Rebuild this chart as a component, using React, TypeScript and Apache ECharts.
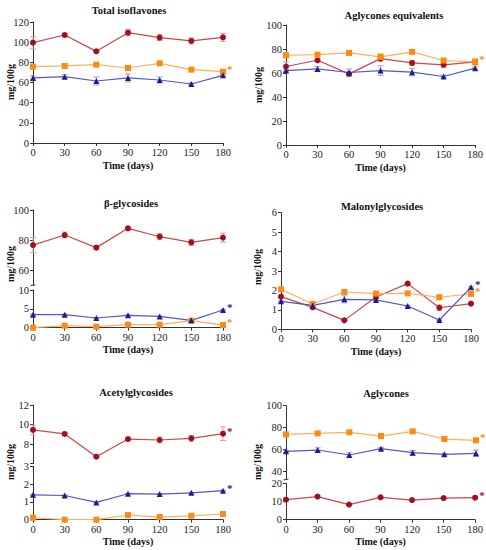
import { useRef, useEffect } from "react";
import * as echarts from "echarts";

const DAYS = [0, 30, 60, 90, 120, 150, 180];
const X_TICKS = { min: 0, max: 180, interval: 30 };

// Total isoflavones
const totalRed = [99.5, 107.1, 90.9, 109.4, 104.5, 101.2, 104.8];
const totalRedErr = [6, 2, 1, 3, 3, 3, 4];
const totalOrange = [75.7, 76.4, 77.7, 74.4, 79, 72.7, 70.7];
const totalOrangeErr = [2, 1, 1, 2, 1, 1, 1];
const totalBlue = [64.5, 65.8, 61.5, 64.5, 62.5, 58.5, 67.1];
const totalBlueErr = [2, 2, 4, 4, 3, 1, 1];

// Aglycones equivalents
const eqRed = [65.4, 70.6, 59.3, 72, 68.4, 66.8, 69.3];
const eqRedErr = [4, 1, 1, 2, 2, 2, 2];
const eqOrange = [74.8, 75.3, 76.7, 73.4, 77.6, 70.4, 69.3];
const eqOrangeErr = [2, 1, 1, 3, 1, 1, 3];
const eqBlue = [62, 63.4, 60.4, 62, 60.7, 57.1, 64];
const eqBlueErr = [1, 2, 3, 4, 3, 1, 1];

// β-glycosides
const betaRed = [76.9, 83.5, 75.2, 87.9, 82.4, 78.7, 81.8];
const betaRedErr = [5, 2, 1, 1, 2, 2, 3];
const betaOrange = [0, 0.53, 0.27, 0.8, 0.8, 1.86, 0.7];
const betaOrangeErr = [0.1, 0.1, 0.1, 0.1, 0.1, 0.2, 0.1];
const betaBlue = [3.45, 3.45, 2.57, 3.27, 3.0, 1.95, 4.7];
const betaBlueErr = [0.2, 0.2, 0.1, 0.1, 0.1, 0.1, 0.2];

// Malonylglycosides
const malRed = [1.68, 1.13, 0.46, 1.66, 2.35, 1.11, 1.32];
const malRedErr = [0.05, 0.05, 0.03, 0.05, 0.05, 0.15, 0.05];
const malOrange = [2.06, 1.3, 1.92, 1.84, 1.85, 1.65, 1.82];
const malOrangeErr = [0.06, 0.05, 0.05, 0.05, 0.04, 0.05, 0.04];
const malBlue = [1.44, 1.23, 1.54, 1.51, 1.2, 0.48, 2.16];
const malBlueErr = [0.05, 0.05, 0.18, 0.05, 0.04, 0.03, 0.05];

// Acetylglycosides
const acRed = [9.44, 9.03, 6.7, 8.51, 8.41, 8.58, 9.06];
const acRedErr = [0.5, 0.1, 0.1, 0.15, 0.3, 0.3, 0.7];
const acOrange = [0.11, 0, 0, 0.26, 0.15, 0.22, 0.32];
const acOrangeErr = [0.05, 0, 0, 0.05, 0.05, 0.05, 0.05];
const acBlue = [1.4, 1.36, 0.97, 1.46, 1.44, 1.51, 1.63];
const acBlueErr = [0.03, 0.03, 0.03, 0.03, 0.03, 0.03, 0.03];

// Aglycones
const agRed = [11.0, 12.7, 8.3, 12.3, 10.8, 11.9, 12.1];
const agRedErr = [0.6, 0.5, 0.5, 0.5, 0.5, 0.5, 0.6];
const agOrange = [73.9, 74.8, 75.8, 72.4, 76.7, 69.7, 68.5];
const agOrangeErr = [1, 1, 1, 2, 1, 1, 2];
const agBlue = [58.5, 59.7, 55.2, 60.9, 57.3, 55.8, 56.7];
const agBlueErr = [1, 2, 2, 1, 2, 1, 3];

const FONT = "Liberation Serif";
const AXIS_COLOR = "#333";

const STYLE = {
  red: { symbol: "circle", size: 6, marker: "#a3101d", line: "#c9474e", err: "#e49aa2" },
  orange: { symbol: "rect", size: 6, marker: "#ff8a10", line: "#ffae5e", err: "#ffc890" },
  blue: { symbol: "triangle", size: 6, marker: "#1c1c8c", line: "#5656c6", err: "#9d9de2" },
};

type Kind = "red" | "orange" | "blue";
type Seg = { top: number; height: number; min: number; max: number; interval: number; hide?: number };
type Line = { kind: Kind; data: number[]; err: number[]; seg: number; star?: boolean };
type Panel = {
  title: string;
  titleX: number;
  titleY: number;
  left: number;
  nameX: number;
  nameY: number;
  segs: Seg[];
  ext?: [number, number];
  lines: Line[];
};

const panels: Panel[] = [
  {
    title: "Total isoflavones", titleX: 129, titleY: 10, left: 33, nameX: 10, nameY: 82,
    segs: [{ top: 22, height: 121, min: 0, max: 120, interval: 20 }],
    lines: [
      { kind: "red", data: totalRed, err: totalRedErr, seg: 0 },
      { kind: "orange", data: totalOrange, err: totalOrangeErr, seg: 0, star: true },
      { kind: "blue", data: totalBlue, err: totalBlueErr, seg: 0 },
    ],
  },
  {
    title: "Aglycones equivalents", titleX: 394, titleY: 15, left: 286, nameX: 258, nameY: 85,
    segs: [{ top: 25, height: 120, min: 0, max: 100, interval: 20 }],
    lines: [
      { kind: "red", data: eqRed, err: eqRedErr, seg: 0 },
      { kind: "orange", data: eqOrange, err: eqOrangeErr, seg: 0, star: true },
      { kind: "blue", data: eqBlue, err: eqBlueErr, seg: 0 },
    ],
  },
  {
    title: "β-glycosides", titleX: 131, titleY: 203, left: 33, nameX: 10, nameY: 264,
    segs: [
      { top: 210, height: 60.7, min: 60, max: 100, interval: 20 },
      { top: 290, height: 37.7, min: 0, max: 10, interval: 5 },
    ],
    ext: [270.7, 285.7],
    lines: [
      { kind: "red", data: betaRed, err: betaRedErr, seg: 0 },
      { kind: "orange", data: betaOrange, err: betaOrangeErr, seg: 1, star: true },
      { kind: "blue", data: betaBlue, err: betaBlueErr, seg: 1, star: true },
    ],
  },
  {
    title: "Malonylglycosides", titleX: 382, titleY: 206, left: 281, nameX: 257, nameY: 267,
    segs: [{ top: 212.7, height: 116.6, min: 0, max: 6, interval: 1 }],
    lines: [
      { kind: "red", data: malRed, err: malRedErr, seg: 0 },
      { kind: "orange", data: malOrange, err: malOrangeErr, seg: 0, star: true },
      { kind: "blue", data: malBlue, err: malBlueErr, seg: 0, star: true },
    ],
  },
  {
    title: "Acetylglycosides", titleX: 136, titleY: 392, left: 33, nameX: 10, nameY: 462,
    segs: [
      { top: 405, height: 58.5, min: 6, max: 12, interval: 2, hide: 6 },
      { top: 466.3, height: 53.4, min: 0, max: 3, interval: 1 },
    ],
    lines: [
      { kind: "red", data: acRed, err: acRedErr, seg: 0, star: true },
      { kind: "orange", data: acOrange, err: acOrangeErr, seg: 1 },
      { kind: "blue", data: acBlue, err: acBlueErr, seg: 1, star: true },
    ],
  },
  {
    title: "Aglycones", titleX: 386, titleY: 393, left: 286, nameX: 257, nameY: 462,
    segs: [
      { top: 405.7, height: 66, min: 40, max: 100, interval: 20 },
      { top: 483.3, height: 36.4, min: 0, max: 20, interval: 10 },
    ],
    ext: [471.7, 480],
    lines: [
      { kind: "red", data: agRed, err: agRedErr, seg: 1, star: true },
      { kind: "orange", data: agOrange, err: agOrangeErr, seg: 0, star: true },
      { kind: "blue", data: agBlue, err: agBlueErr, seg: 0 },
    ],
  },
];

const PLOT_W = 190;

const App = () => {
  const chartRef = useRef<HTMLDivElement>(null);

  useEffect(() => {
    const grid: any[] = [];
    const xAxis: any[] = [];
    const yAxis: any[] = [];
    const series: any[] = [];
    const graphic: any[] = [];

    panels.forEach((p) => {
      const base = grid.length;
      p.segs.forEach((s, si) => {
        const isBottom = si === p.segs.length - 1;
        grid.push({ left: p.left, top: s.top, width: PLOT_W, height: s.height });
        xAxis.push({
          type: "value",
          gridIndex: base + si,
          ...X_TICKS,
          show: isBottom,
          splitLine: { show: false },
          axisLine: { show: true, lineStyle: { color: AXIS_COLOR, width: 1 } },
          axisTick: { show: true, length: 3, lineStyle: { color: AXIS_COLOR } },
          axisLabel: { fontFamily: FONT, fontSize: 10.5, color: "#222", margin: 4 },
          name: isBottom ? "Time (days)" : "",
          nameLocation: "middle",
          nameGap: 17,
          nameTextStyle: { fontFamily: FONT, fontSize: 10, fontWeight: "bold", color: "#111" },
        });
        yAxis.push({
          type: "value",
          gridIndex: base + si,
          min: s.min,
          max: s.max,
          interval: s.interval,
          splitLine: { show: false },
          axisLine: { show: true, lineStyle: { color: AXIS_COLOR, width: 1 } },
          axisTick: { show: true, length: 3, lineStyle: { color: AXIS_COLOR } },
          axisLabel: {
            fontFamily: FONT,
            fontSize: 10.5,
            color: "#222",
            margin: 4,
            formatter: (v: number) => (s.hide !== undefined && v === s.hide ? "" : String(v)),
          },
        });
      });

      p.lines.forEach((l) => {
        const st = STYLE[l.kind];
        const idx = base + l.seg;
        series.push({
          type: "custom",
          xAxisIndex: idx,
          yAxisIndex: idx,
          z: 1,
          encode: { x: 0, y: [1, 2] },
          data: DAYS.map((d, i) => [d, l.data[i] - l.err[i], l.data[i] + l.err[i]]),
          renderItem: (_params: any, api: any) => {
            const x = api.value(0);
            const top = api.coord([x, api.value(2)]);
            const bot = api.coord([x, api.value(1)]);
            const w = 3;
            const ls = { stroke: st.err, lineWidth: 1 };
            return {
              type: "group",
              children: [
                { type: "line", shape: { x1: top[0], y1: top[1], x2: bot[0], y2: bot[1] }, style: ls },
                { type: "line", shape: { x1: top[0] - w, y1: top[1], x2: top[0] + w, y2: top[1] }, style: ls },
                { type: "line", shape: { x1: bot[0] - w, y1: bot[1], x2: bot[0] + w, y2: bot[1] }, style: ls },
              ],
            };
          },
        });
        series.push({
          type: "line",
          xAxisIndex: idx,
          yAxisIndex: idx,
          z: 2,
          symbol: st.symbol,
          symbolSize: st.size,
          itemStyle: { color: st.marker },
          lineStyle: { color: st.line, width: 1.2 },
          data: DAYS.map((d, i) => {
            const value = [d, l.data[i]];
            if (l.star && i === DAYS.length - 1) {
              return {
                value,
                label: {
                  show: true,
                  formatter: "*",
                  position: "right",
                  distance: 1,
                  offset: [0, -3],
                  color: st.marker,
                  fontFamily: FONT,
                  fontSize: 11,
                  fontWeight: "bold",
                },
              };
            }
            return value;
          }),
        });
      });

      graphic.push({
        type: "text",
        x: p.titleX,
        y: p.titleY,
        style: {
          text: p.title,
          fontFamily: FONT,
          fontSize: 10.5,
          fontWeight: "bold",
          fill: "#111",
          textAlign: "center",
          textVerticalAlign: "middle",
        },
      });
      graphic.push({
        type: "text",
        x: p.nameX,
        y: p.nameY,
        rotation: Math.PI / 2,
        style: {
          text: "mg/100g",
          fontFamily: FONT,
          fontSize: 10,
          fontWeight: "bold",
          fill: "#111",
          textAlign: "center",
          textVerticalAlign: "middle",
        },
      });
      if (p.ext) {
        const ax = p.left + 0.5;
        graphic.push({
          type: "line",
          shape: { x1: ax, y1: p.ext[0], x2: ax, y2: p.ext[1] },
          style: { stroke: AXIS_COLOR, lineWidth: 1 },
        });
        graphic.push({
          type: "line",
          shape: { x1: ax - 3, y1: p.ext[1], x2: ax + 2, y2: p.ext[1] - 1 },
          style: { stroke: AXIS_COLOR, lineWidth: 1 },
        });
      }
    });

    const myChart = echarts.init(chartRef.current, null, { renderer: "svg" });
    myChart.setOption({
      animation: false,
      backgroundColor: "#fff",
      grid,
      xAxis,
      yAxis,
      series,
      graphic,
    });

    return () => {
      myChart.dispose();
    };
  }, []);

  return (
    <div
      ref={chartRef}
      style={{ position: "absolute", left: 0, top: 0, width: "486px", height: "550px" }}
    ></div>
  );
};

export default App;
